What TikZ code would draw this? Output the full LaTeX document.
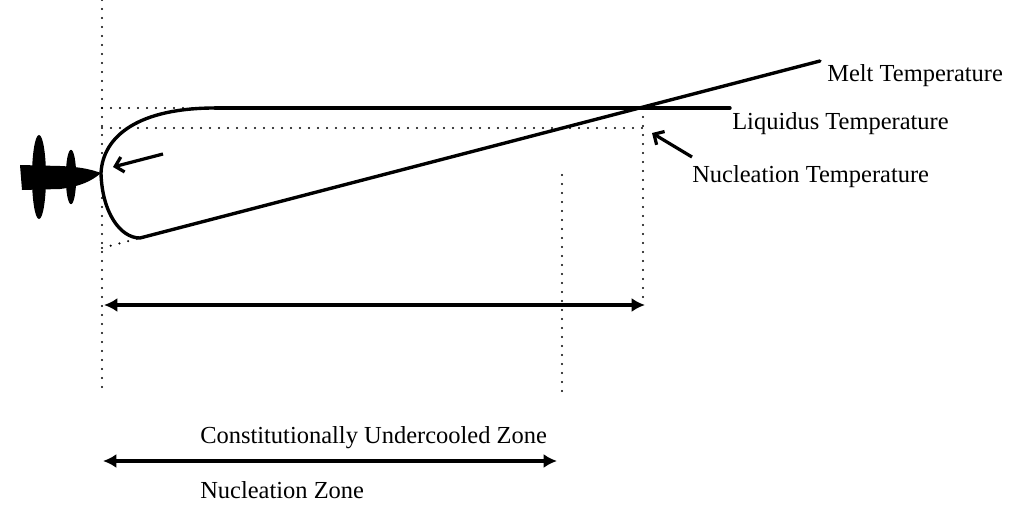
\documentclass[tikz,border=0pt]{standalone}
\usepackage{fontspec}
\setmainfont{Liberation Serif}
\usetikzlibrary{arrows.meta}
\tikzset{
  curveline/.style={line width=2.4pt,line cap=round,line join=round},
  dotline/.style={line width=1.7pt,line cap=round,dash pattern=on 0pt off 6.4pt},
  zonearrow/.style={line width=2.4pt,{Latex[length=9.5pt,width=10pt]}-{Latex[length=9.5pt,width=10pt]}},
  pointer/.style={line width=2.3pt,-{Straight Barb[length=5.5pt,width=11pt]}},
  lbl/.style={anchor=base west,inner sep=0pt,font=\fontsize{17.4}{20}\selectfont}
}

\begin{document}
\begin{tikzpicture}[x=0.025cm,y=-0.025cm]
\useasboundingbox (0,0) rectangle (1024,505);

% points of the sketch
\coordinate (Top) at (102,0);
\coordinate (Bot) at (102,390);
\coordinate (Liq0) at (102,108);
\coordinate (LiqA) at (215,108);
\coordinate (LiqB) at (730,108);
\coordinate (Nuc0) at (102,128);
\coordinate (Nuc1) at (643,128);
\coordinate (Tip) at (101,173);
\coordinate (Low) at (140,238);
\coordinate (Melt0) at (102,248);
\coordinate (Melt1) at (820,61);
\coordinate (Cross) at (643,108);
\coordinate (CrossBot) at (643,297);
\coordinate (CuzTop) at (562,175);
\coordinate (CuzBot) at (562,397);

% dotted guides
\draw[dotline] (Top) -- (Bot);
\draw[dotline] (Liq0) -- (LiqA);
\draw[dotline] (Nuc0) -- (Nuc1);
\draw[dotline] (Melt0) -- (Low);
\draw[dotline] (Cross) -- (CrossBot);
\draw[dotline] (CuzTop) -- (CuzBot);

% solid lines and the melt pool
\draw[curveline] (LiqA) -- (LiqB);
\draw[curveline] (LiqA) .. controls (140,108) and (103,135) .. (Tip)
  .. controls (102,212) and (120,238) .. (Low) -- (Melt1);

% torch
\fill (20,165) -- (60,166) .. controls (85,167) and (95,171) .. (Tip)
  .. controls (95,178) and (85,186) .. (60,189) -- (22,190) -- cycle;
\fill (39,177) ellipse [x radius=0.175cm,y radius=1.05cm];
\fill (71,177) ellipse [x radius=0.13cm,y radius=0.68cm];

% labels
\node[lbl] (melt) at (827,82) {Melt Temperature};
\node[lbl] (liq) at (732,130) {Liquidus Temperature};
\node[lbl] (nuct) at (692,183) {Nucleation Temperature};
\node[lbl] (cuz) at (200,443) {Constitutionally Undercooled Zone};
\node[lbl] (nucz) at (200,498) {Nucleation Zone};

% pointers
\coordinate (PoolTail) at (163,154);
\coordinate (PoolHead) at (113,167);
\coordinate (NucTail) at (692,157);
\coordinate (NucHead) at (652,133);
\draw[pointer] (PoolTail) -- (PoolHead);
\draw[pointer] (NucTail) -- (NucHead);

% zones
\coordinate (ZoneA0) at (104,305);
\coordinate (ZoneA1) at (645,305);
\coordinate (ZoneB0) at (103,461);
\coordinate (ZoneB1) at (557,461);
\draw[zonearrow] (ZoneA0) -- (ZoneA1);
\draw[zonearrow] (ZoneB0) -- (ZoneB1);
\end{tikzpicture}
\end{document}
